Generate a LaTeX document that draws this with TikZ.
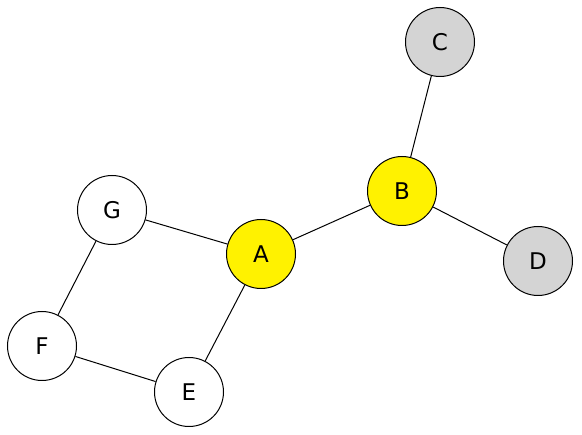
\documentclass[tikz,border=0pt]{standalone}
\usepackage{fontspec}
\setmainfont{DejaVu Sans}
\begin{document}
\begin{tikzpicture}[x=1pt, y=-1pt,
  vertex/.style={circle, draw, line width=1pt, minimum size=69pt, inner sep=0pt, font=\fontsize{23}{27}\selectfont, fill=white},
  hub/.style={vertex, fill=yellow},
  leaf/.style={vertex, fill=black!17},
  edge/.style={line width=1pt}
]
  \useasboundingbox (0,0) rectangle (582,435);
  \node[leaf] (c) at (440,42) {C};
  \node[hub]  (b) at (402,191) {B};
  \node[leaf] (d) at (538,261) {D};
  \node[vertex] (g) at (112,210) {G};
  \node[hub]  (a) at (261,254) {A};
  \node[vertex] (f) at (42,346) {F};
  \node[vertex] (e) at (189,392) {E};

  \draw[edge] (b) -- (c);
  \draw[edge] (b) -- (d);
  \draw[edge] (a) -- (b);
  \draw[edge] (g) -- (a);
  \draw[edge] (a) -- (e);
  \draw[edge] (g) -- (f);
  \draw[edge] (f) -- (e);
\end{tikzpicture}
\end{document}
